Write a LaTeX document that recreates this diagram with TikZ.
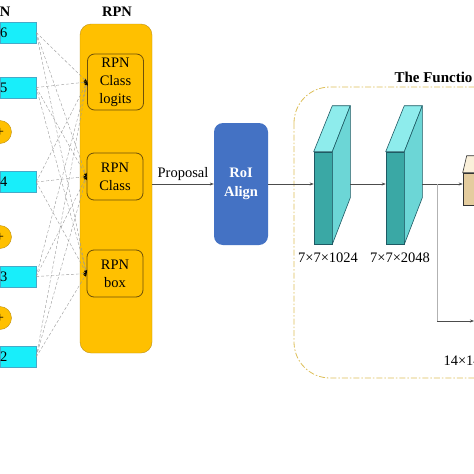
\documentclass[tikz,border=0pt]{standalone}
\usepackage{fontspec}
\setmainfont{Liberation Serif}
\usetikzlibrary{arrows.meta,calc}

\definecolor{fpncyan}{RGB}{24,238,250}
\definecolor{fpnedge}{RGB}{70,170,200}
\definecolor{rpnorange}{RGB}{255,192,0}
\definecolor{rpnedge}{RGB}{190,145,20}
\definecolor{headedge}{RGB}{110,80,10}
\definecolor{roiblue}{RGB}{68,114,196}
\definecolor{slabfront}{RGB}{58,168,165}
\definecolor{slabside}{RGB}{108,214,214}
\definecolor{slabtop}{RGB}{142,236,236}
\definecolor{slabedge}{RGB}{30,90,100}
\definecolor{beigefront}{RGB}{228,204,158}
\definecolor{beigetop}{RGB}{250,240,218}
\definecolor{regionline}{RGB}{222,192,90}

\tikzset{
  fpnbox/.style={draw=fpnedge, fill=fpncyan, minimum width=36pt, minimum height=21pt, inner sep=0pt},
  addnode/.style={circle, draw=rpnedge, fill=rpnorange, minimum size=23pt, inner sep=0pt},
  headbox/.style={draw=headedge, fill=rpnorange, line width=0.8pt, rounded corners=7pt, minimum width=56pt, align=center, inner sep=0pt},
  feed/.style={gray!80, dash pattern=on 3pt off 2pt, line width=0.4pt, -{Stealth[length=3.5pt,width=2.5pt,black]}},
  flow/.style={black!70, line width=0.5pt, -{Stealth[length=4pt,width=3pt]}},
  slabface/.style={draw=slabedge, line width=0.6pt, line join=round},
}

\begin{document}
\begin{tikzpicture}[x=1pt, y=-1pt, font=\fontsize{14.5}{18}\selectfont]
\useasboundingbox (0,0) rectangle (474,474);
\clip (0,0) rectangle (474,474);
\fill[white] (0,0) rectangle (474,474);

% FPN levels
\node[anchor=east, font=\fontsize{14.5}{18}\selectfont\bfseries] (fpntitle) at (14,12) {PN};
\node[fpnbox] (p6) at (18,32.5) {};
\node[fpnbox] (p5) at (18,87.5) {};
\node[fpnbox] (p4) at (18,182) {};
\node[fpnbox] (p3) at (18,276.5) {};
\node[fpnbox] (p2) at (18,357) {};
\node[anchor=west, inner sep=0pt] at (p6.west) {6};
\node[anchor=west, inner sep=0pt] at (p5.west) {5};
\node[anchor=west, inner sep=0pt] at (p4.west) {4};
\node[anchor=west, inner sep=0pt] at (p3.west) {3};
\node[anchor=west, inner sep=0pt] at (p2.west) {2};
\node[addnode] (add1) at (0,132) {+};
\node[addnode] (add2) at (0,237) {+};
\node[addnode] (add3) at (0,318) {+};

% RPN
\node[font=\fontsize{14.5}{18}\selectfont\bfseries] (rpntitle) at (117,12) {RPN};
\node[draw=rpnedge, fill=rpnorange, rounded corners=11pt, minimum width=72pt, minimum height=329pt] (rpn) at (116,188.5) {};
\node[headbox, minimum height=56pt] (hlog) at (115.5,82) {RPN\\Class\\logits};
\node[headbox, minimum height=47pt] (hcls) at (115,176.5) {RPN\\Class};
\node[headbox, minimum height=47pt] (hbox) at (115,273.5) {RPN\\box};

\draw[feed] (p6.east) -- (hlog.west);
\draw[feed] (p6.east) -- (hcls.west);
\draw[feed] (p6.east) -- (hbox.west);
\draw[feed] (p5.east) -- (hlog.west);
\draw[feed] (p5.east) -- (hcls.west);
\draw[feed] (p5.east) -- (hbox.west);
\draw[feed] (p4.east) -- (hlog.west);
\draw[feed] (p4.east) -- (hcls.west);
\draw[feed] (p4.east) -- (hbox.west);
\draw[feed] (p3.east) -- (hlog.west);
\draw[feed] (p3.east) -- (hcls.west);
\draw[feed] (p3.east) -- (hbox.west);
\draw[feed] (p2.east) -- (hlog.west);
\draw[feed] (p2.east) -- (hcls.west);
\draw[feed] (p2.east) -- (hbox.west);

% RoI Align
\node[fill=roiblue, rounded corners=9pt, minimum width=54pt, minimum height=122pt, align=center, text=white, font=\fontsize{14.5}{19}\selectfont\bfseries] (roi) at (241,184) {RoI\\Align};
\draw[flow] (rpn.east |- roi.west) -- node[above, black, inner sep=3pt] (proplabel) {Proposal} (roi.west);

% the function region
\draw[regionline, line width=0.8pt, dash pattern=on 6pt off 2pt on 1.5pt off 2pt, rounded corners=36pt] (294,87) rectangle (560,378);
\node[anchor=west, font=\fontsize{15}{18}\selectfont\bfseries] (fntitle) at (391,77) {The Functio};

% feature slabs
\node[fill=slabfront, draw=slabedge, line width=0.6pt, minimum width=18pt, minimum height=92pt, inner sep=0pt] (s1) at (323,198) {};
\filldraw[slabface, fill=slabtop] (s1.north west) -- (s1.north east) -- ++(18,-46) -- ++(-18,0) -- cycle;
\filldraw[slabface, fill=slabside] (s1.north east) -- ++(18,-46) -- ++(0,92) -- (s1.south east) -- cycle;
\node[fill=slabfront, draw=slabedge, line width=0.6pt, minimum width=18pt, minimum height=92pt, inner sep=0pt] (s2) at (395,198) {};
\filldraw[slabface, fill=slabtop] (s2.north west) -- (s2.north east) -- ++(18,-46) -- ++(-18,0) -- cycle;
\filldraw[slabface, fill=slabside] (s2.north east) -- ++(18,-46) -- ++(0,92) -- (s2.south east) -- cycle;
\node (s1label) at (328,258) {7×7×1024};
\node (s2label) at (400,258) {7×7×2048};

% beige block
\node[fill=beigefront, draw=black!80, line width=0.6pt, minimum width=54pt, minimum height=32pt, inner sep=0pt] (fc) at (490,189) {};
\filldraw[draw=black!80, line width=0.6pt, fill=beigetop] (fc.north west) -- ++(4,-17) -- ++(60,0) -- (fc.north east) -- cycle;

\draw[flow] (roi.east) -- (roi.east -| s1.west);
\coordinate (s1out) at ($(s1.east)+(18,-14)$);
\draw[flow] (s1out) -- (s1out -| s2.west);
\coordinate (s2out) at ($(s2.east)+(18,-14)$);
\draw[flow] (s2out) -- (s2out -| fc.west);
\coordinate (split) at (437,184);
\coordinate (tomask) at (474,321);
\draw[gray!60, line width=0.6pt] (split) -- (split |- tomask);
\draw[flow] (split |- tomask) -- (tomask);
\node[anchor=west] (masklabel) at (440,361) {14×14};
\end{tikzpicture}
\end{document}
